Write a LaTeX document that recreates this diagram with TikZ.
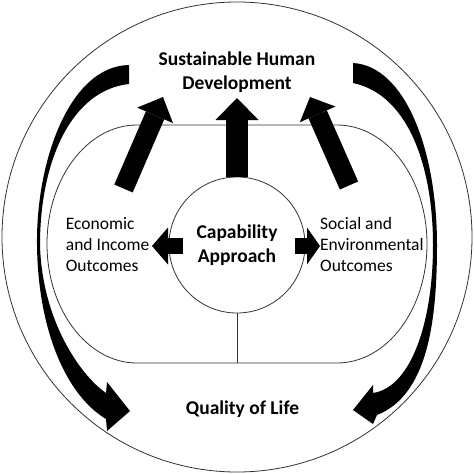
\documentclass[tikz,border=0pt]{standalone}
\usepackage{fontspec}
\setmainfont{Carlito}
\usetikzlibrary{arrows.meta, positioning}

\begin{document}
\begin{tikzpicture}[x=1pt, y=-1pt,
  thinline/.style={line width=0.8pt, draw=black!80},
  sidetext/.style={font=\fontsize{17.5}{21.2}\selectfont, align=left, inner sep=0pt},
  boldtext/.style={font=\bfseries\fontsize{19.5}{23.4}\selectfont, align=center, inner sep=0pt},
  fat arrow/.style args={#1/#2/#3}{line width=#1, -{Triangle[length=#2, width=#3, line width=0pt]}}]
\useasboundingbox[fill=white] (0,0) rectangle (474,474);
% Outer circle
\draw[thinline] (237,237) circle [radius=235pt];
% Stadium round the middle
\draw[thinline] (137,125) -- (337,125)
  arc[start angle=90, end angle=-90, x radius=90pt, y radius=119pt] -- (137,363)
  arc[start angle=270, end angle=90, x radius=90pt, y radius=119pt] -- cycle;
% Middle circle and its stem
\node[circle, thinline, minimum size=136pt, inner sep=0pt, boldtext] (cap) at (237,245) {Capability\\Approach};
\coordinate (stem-end) at (237,363);
\draw[thinline] (cap.south) -- (stem-end);
% Labels
\node[boldtext] (shd) at (237,72) {Sustainable Human\\Development};
\node[boldtext, anchor=base] (qol) at (242.5,414) {Quality of Life};
\node[sidetext, anchor=west] (econ) at (65.7,244.4) {Economic\\and Income\\Outcomes};
\node[sidetext, anchor=west] (soc) at (320,244.4) {Social and\\Environmental\\Outcomes};
% Straight arrows
\coordinate (up-tip) at (237,98);
\coordinate (l-tail) at (123.5,188.5);
\coordinate (l-tip) at (163,97);
\coordinate (r-tail) at (349,185.5);
\coordinate (r-tip) at (310,97);
\coordinate (w-tail) at (183,246);
\coordinate (w-tip) at (152,246);
\coordinate (e-tail) at (295,246);
\coordinate (e-tip) at (320,246);
\draw[fat arrow=21.5pt/22pt/43pt] (cap.north) -- (up-tip);
\draw[fat arrow=20pt/20pt/39pt] (l-tail) -- (l-tip);
\draw[fat arrow=20pt/19pt/39pt] (r-tail) -- (r-tip);
\draw[fat arrow=16pt/16pt/37pt] (w-tail) -- (w-tip);
\draw[fat arrow=16pt/13pt/37pt] (e-tail) -- (e-tip);
% Left curved arrow
\fill (129,65) .. controls (70,66) and (36,160) .. (37,245)
  .. controls (38,330) and (66,395) .. (106,419)
  -- (107,431) -- (130,411) -- (107,382) -- (106,393)
  .. controls (80,375) and (42,320) .. (40,245)
  .. controls (40,160) and (72,90) .. (129,84) -- cycle;
% Right curved arrow
\fill (353,63) .. controls (405,66) and (437,150) .. (437,245)
  .. controls (437,320) and (428,395) .. (377,415)
  -- (373,424) -- (353,410) -- (373,385) -- (373,393)
  .. controls (412,387) and (433,320) .. (433,245)
  .. controls (433,170) and (410,95) .. (353,83) -- cycle;
\end{tikzpicture}
\end{document}
